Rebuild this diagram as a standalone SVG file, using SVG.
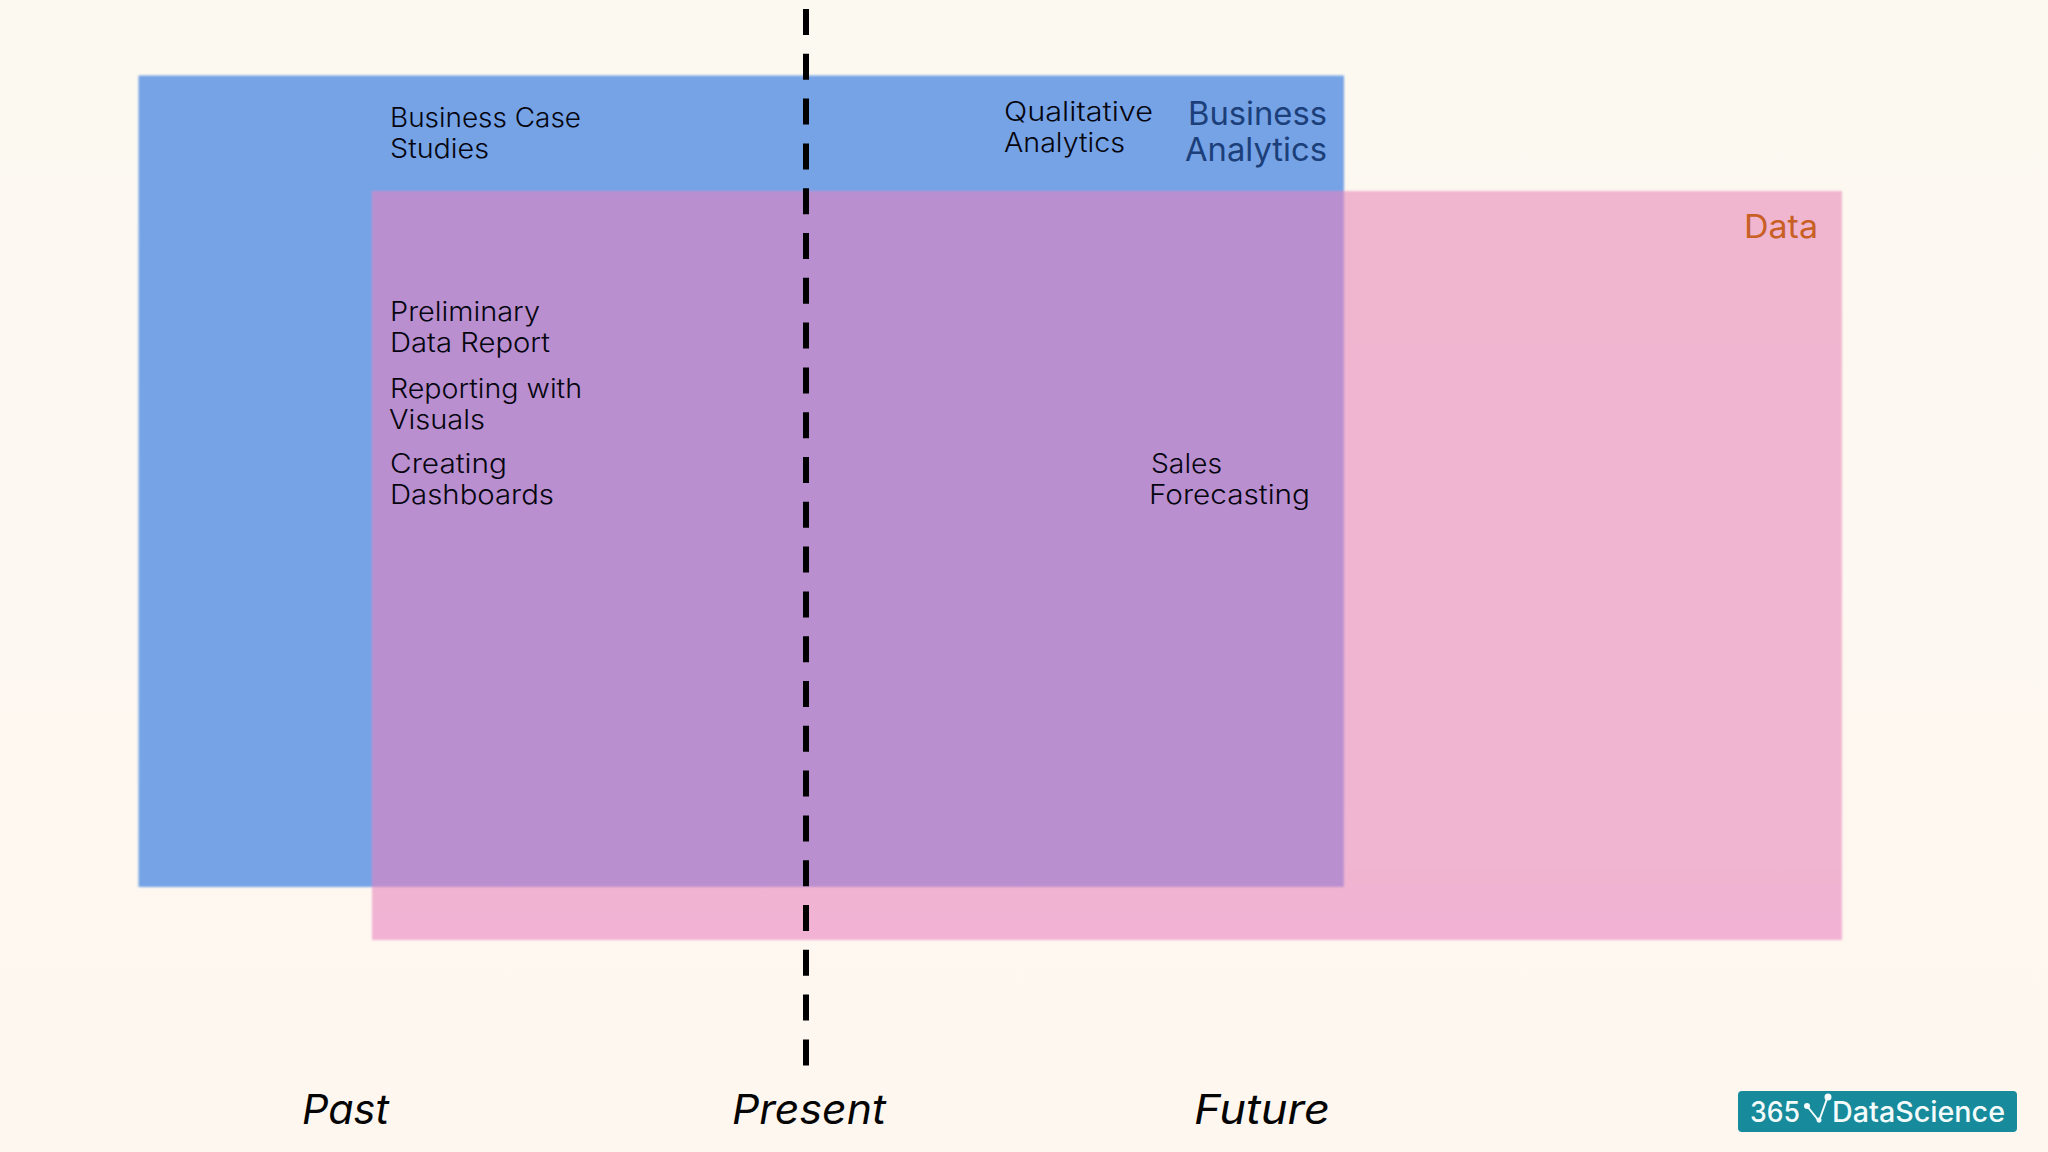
<svg xmlns="http://www.w3.org/2000/svg" width="2048" height="1152" viewBox="0 0 2048 1152">
<defs>
<filter id="soft" x="-2%" y="-2%" width="104%" height="104%"><feGaussianBlur stdDeviation="1.2"/></filter>
<linearGradient id="bg" x1="0" y1="0" x2="0" y2="1"><stop offset="0" stop-color="#fcf9f1"/><stop offset="1" stop-color="#fef7f0"/></linearGradient>
<linearGradient id="pk" x1="0" y1="0" x2="0" y2="1"><stop offset="0" stop-color="#f0b6cf"/><stop offset="0.9" stop-color="#f0b5d1"/><stop offset="1" stop-color="#f2b2d4"/></linearGradient>
</defs>
<style>
text{font-family:"Inter","Lato",sans-serif;}
.t{font-size:27px;font-weight:300;fill:#05050f;}
.h{font-size:32px;font-weight:400;fill:#1c3f7a;}
.d{font-size:32px;font-weight:400;fill:#c85f24;}
.a{font-size:41px;font-weight:400;font-style:italic;fill:#050505;}
.l{font-size:28px;fill:#f4fbfb;font-weight:500;}
</style>
<rect width="2048" height="1152" fill="url(#bg)"/>
<g id="regions" filter="url(#soft)">
<rect id="business-analytics-region" x="138.5" y="75.5" width="1205.5" height="811.5" fill="#74a3e6"/>
<rect id="data-region" x="372" y="191" width="1470" height="749" fill="url(#pk)"/>
<rect id="overlap-region" x="372" y="191" width="972" height="696" fill="#ba8fcf"/>
</g>
<g id="connectors"><line x1="806" y1="9" x2="806" y2="1066" stroke="#000" stroke-width="6" stroke-dasharray="26 18.8"/></g>
<g id="business-analytics"><text class="h" x="1188" y="125" textLength="139" lengthAdjust="spacingAndGlyphs">Business</text><text class="h" x="1185" y="161" textLength="142" lengthAdjust="spacingAndGlyphs">Analytics</text></g>
<g id="data"><text class="d" x="1744" y="238" textLength="74" lengthAdjust="spacingAndGlyphs">Data</text></g>
<g id="business-case"><text class="t" x="390" y="126.5" textLength="191" lengthAdjust="spacingAndGlyphs">Business Case</text><text class="t" x="390" y="157.5" textLength="99" lengthAdjust="spacingAndGlyphs">Studies</text></g>
<g id="qualitative"><text class="t" x="1004" y="120.5" textLength="149" lengthAdjust="spacingAndGlyphs">Qualitative</text><text class="t" x="1004" y="151.5" textLength="121" lengthAdjust="spacingAndGlyphs">Analytics</text></g>
<g id="preliminary"><text class="t" x="390" y="320.5" textLength="150" lengthAdjust="spacingAndGlyphs">Preliminary</text><text class="t" x="390" y="351.5" textLength="160" lengthAdjust="spacingAndGlyphs">Data Report</text></g>
<g id="reporting"><text class="t" x="390" y="397.5" textLength="192" lengthAdjust="spacingAndGlyphs">Reporting with</text><text class="t" x="389" y="428.5" textLength="96" lengthAdjust="spacingAndGlyphs">Visuals</text></g>
<g id="dashboards"><text class="t" x="390" y="472.5" textLength="117" lengthAdjust="spacingAndGlyphs">Creating</text><text class="t" x="390" y="503.5" textLength="164" lengthAdjust="spacingAndGlyphs">Dashboards</text></g>
<g id="sales"><text class="t" x="1151" y="472.5" textLength="71" lengthAdjust="spacingAndGlyphs">Sales</text><text class="t" x="1149" y="503.5" textLength="161" lengthAdjust="spacingAndGlyphs">Forecasting</text></g>
<g id="past"><text class="a" x="302" y="1124" textLength="87" lengthAdjust="spacingAndGlyphs">Past</text></g>
<g id="present"><text class="a" x="732" y="1124" textLength="154" lengthAdjust="spacingAndGlyphs">Present</text></g>
<g id="future"><text class="a" x="1194" y="1124" textLength="136" lengthAdjust="spacingAndGlyphs">Future</text></g>
<g id="logo">
<rect x="1738" y="1091" width="279" height="41" rx="4" fill="#178a9c"/>
<path d="M1807 1106L1819 1121L1828 1096" fill="none" stroke="#f4fbfb" stroke-width="2"/>
<circle cx="1807" cy="1106" r="3" fill="#f4fbfb"/><circle cx="1819" cy="1120" r="2.5" fill="#f4fbfb"/><circle cx="1828" cy="1097" r="3.5" fill="#f4fbfb"/>
<text class="l" x="1750" y="1122" textLength="50" lengthAdjust="spacingAndGlyphs">365</text>
<text class="l" x="1832" y="1122" textLength="173" lengthAdjust="spacingAndGlyphs">DataScience</text>
</g>
</svg>
